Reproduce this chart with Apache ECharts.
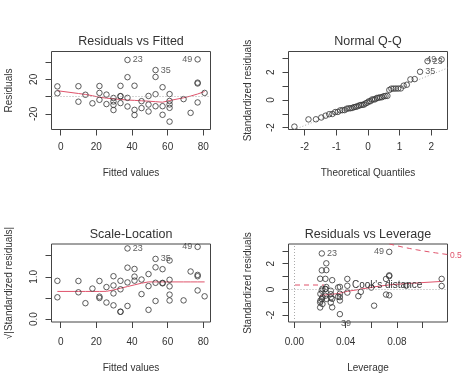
<!DOCTYPE html>
<html><head><meta charset="utf-8">
<script src="https://cdn.jsdelivr.net/npm/echarts@6/dist/echarts.min.js"></script>
<style>html,body{margin:0;padding:0;background:#fff}#c{width:474px;height:387px}</style>
</head><body><div id="c"></div>
<script>
// lm(dist ~ speed) diagnostics, 50 observations
const fitted = [-1.85,-1.85,9.95,9.95,13.88,17.81,21.74,21.74,21.74,25.68,25.68,29.61,29.61,29.61,29.61,33.54,33.54,33.54,33.54,37.47,37.47,37.47,37.47,41.41,41.41,41.41,45.34,45.34,49.27,49.27,49.27,53.20,53.20,53.20,53.20,57.14,57.14,57.14,61.07,61.07,61.07,61.07,61.07,68.93,72.87,76.80,76.80,76.80,76.80,80.73];
const residuals = [3.85,11.85,-5.95,12.05,2.12,-7.81,-3.74,4.26,12.26,-8.68,2.32,-15.61,-9.61,-5.61,-1.61,-7.54,0.46,0.46,12.46,-11.47,-1.47,22.53,42.53,-21.41,-15.41,12.59,-13.34,-5.34,-17.27,-9.27,0.73,-11.20,2.80,22.80,30.80,-21.14,-11.14,10.86,-29.07,-13.07,-9.07,-5.07,2.93,-2.93,-18.87,-6.80,15.20,16.20,43.20,4.27];
const stdResid = [0.266,0.819,-0.401,0.813,0.142,-0.521,-0.249,0.283,0.814,-0.574,0.154,-1.030,-0.634,-0.370,-0.106,-0.496,0.030,0.030,0.820,-0.754,-0.097,1.481,2.795,-1.406,-1.012,0.827,-0.876,-0.351,-1.136,-0.610,0.048,-0.738,0.184,1.501,2.028,-1.395,-0.735,0.717,-1.925,-0.865,-0.600,-0.336,0.194,-0.196,-1.267,-0.459,1.027,1.095,2.919,0.291];
const sqrtAbsStd = [0.516,0.905,0.634,0.902,0.377,0.722,0.499,0.532,0.902,0.758,0.392,1.015,0.796,0.608,0.326,0.705,0.174,0.174,0.906,0.868,0.311,1.217,1.672,1.186,1.006,0.910,0.936,0.592,1.066,0.781,0.219,0.859,0.429,1.225,1.424,1.181,0.857,0.847,1.387,0.930,0.775,0.579,0.441,0.443,1.126,0.678,1.014,1.046,1.709,0.539];
const leverage = [0.1149,0.1149,0.0715,0.0715,0.0600,0.0499,0.0413,0.0413,0.0413,0.0341,0.0341,0.0284,0.0284,0.0284,0.0284,0.0242,0.0242,0.0242,0.0242,0.0214,0.0214,0.0214,0.0214,0.0201,0.0201,0.0201,0.0203,0.0203,0.0219,0.0219,0.0219,0.0249,0.0249,0.0249,0.0249,0.0295,0.0295,0.0295,0.0355,0.0355,0.0355,0.0355,0.0355,0.0518,0.0622,0.0740,0.0740,0.0740,0.0740,0.0873];
const qqTheoretical = [-2.326,-1.881,-1.645,-1.476,-1.341,-1.227,-1.126,-1.036,-0.954,-0.878,-0.806,-0.739,-0.674,-0.613,-0.553,-0.496,-0.440,-0.385,-0.332,-0.279,-0.228,-0.176,-0.126,-0.075,-0.025,0.025,0.075,0.126,0.176,0.228,0.279,0.332,0.385,0.440,0.496,0.553,0.613,0.674,0.739,0.806,0.878,0.954,1.036,1.126,1.227,1.341,1.476,1.645,1.881,2.326];
const qqSample = [-1.925,-1.406,-1.395,-1.267,-1.136,-1.030,-1.012,-0.876,-0.865,-0.754,-0.738,-0.735,-0.634,-0.610,-0.600,-0.574,-0.521,-0.496,-0.459,-0.401,-0.370,-0.351,-0.336,-0.249,-0.196,-0.106,-0.097,0.030,0.030,0.048,0.142,0.154,0.184,0.194,0.266,0.283,0.291,0.717,0.813,0.814,0.819,0.820,0.827,1.027,1.095,1.481,1.501,2.028,2.795,2.919];
const qqLineX = [-2.5124, 2.5124];
const qqLineY = [-2.3148, 2.2974];
// smoothers
const smoothFitX = [-1.85,9.95,13.88,17.81,21.74,25.68,29.61,33.54,37.47,41.41,45.34,49.27,53.20,57.14,61.07,68.93,72.87,76.80,80.73];
const smoothResid = [6.8,3.6,2.5,1.0,-0.8,-1.8,-2.6,-3.3,-4.0,-4.4,-4.9,-5.3,-5.9,-6.5,-4.6,-1.4,0.6,3.0,5.9];
const smoothScale = [0.655,0.655,0.655,0.655,0.655,0.657,0.69,0.73,0.77,0.81,0.85,0.88,0.88,0.88,0.88,0.88,0.88,0.88,0.88];
const smoothLevX = [0.0201,0.0203,0.0214,0.0219,0.0242,0.0249,0.0284,0.0295,0.0341,0.0355,0.0413,0.0499,0.0518,0.0600,0.0622,0.0715,0.0740,0.0873,0.1149];
const smoothLev = [-0.47,-0.47,-0.46,-0.45,-0.43,-0.42,-0.38,-0.37,-0.33,-0.30,-0.15,-0.02,0.03,0.15,0.20,0.32,0.35,0.45,0.62];
// Cook's distance 0.5 contour
const cookX = [0.074,0.08,0.085,0.09,0.095,0.10,0.105,0.11,0.115,0.1195];
const cookY = [3.537,3.391,3.281,3.180,3.087,3.000,2.920,2.845,2.774,2.714];
// labelled points: index -> id text
const idFit = {22:'23', 34:'35', 48:'49'};
const idQQ = {47:'35', 48:'23', 49:'49'};
const idLev = {22:'23', 48:'49', 38:'39'};
// ticks
const xTicksFit = [0,20,40,60,80];
const yTicks1 = [-20,0,20,40], yLabels1 = [-20,20];
const xTicksQQ = [-2,-1,0,1,2];
const yTicksStd = [-2,-1,0,1,2,3], yLabelsStd = [-2,0,2];
const yTicks3 = [0,0.5,1,1.5], yLabels3 = [0,1];
const xTicksLev = [0,0.02,0.04,0.06,0.08,0.10], xLabelsLev = [0,0.04,0.08];

const FONT = '"Liberation Sans", Arial, sans-serif';
const TXT = '#333', LINE = '#444', RED = '#DF536B', GREY = '#aaa';

// label placement styles
const posFit = {22:['right',[0,0]], 34:['right',[0,0]], 48:['left',[0,0]]};
const posQQ = {47:['right',[0,0]], 48:['right',[0,0]], 49:['left',[0,0]]};
const posLev = {22:['right',[0,0]], 48:['left',[0,0]], 38:['bottom',[6,0]]};

function pts(xs, ys, ids, pos) {
  return xs.map((x, i) => {
    if (ids[i] === undefined) return [x, ys[i]];
    return {value: [x, ys[i]], label: {show: true, formatter: ids[i], position: pos[i][0], offset: pos[i][1],
      distance: 2, fontSize: 9, color: TXT, fontFamily: FONT}};
  });
}
function zip(a, b) { return a.map((v, i) => [v, b[i]]); }

function xAx(g, min, max, ticks, labels, fmt, name, gap, margin) {
  return {type:'value', gridIndex:g, min:min, max:max, name:name, nameLocation:'middle', nameGap:gap,
    nameTextStyle:{fontSize:10, color:TXT, fontFamily:FONT},
    axisLine:{show:false, onZero:false}, splitLine:{show:false},
    axisTick:{show:true, length:6, lineStyle:{color:LINE}, customValues:ticks},
    axisLabel:{show:true, customValues:labels, margin:margin, fontSize:10, color:TXT, fontFamily:FONT, formatter:fmt}};
}
function yAx(g, min, max, ticks, labels, fmt, name, gap) {
  return {type:'value', gridIndex:g, min:min, max:max, name:name, nameLocation:'middle', nameGap:gap,
    nameTextStyle:{fontSize:10, color:TXT, fontFamily:FONT},
    axisLine:{show:false, onZero:false}, splitLine:{show:false},
    axisTick:{show:true, length:6, lineStyle:{color:LINE}, customValues:ticks},
    axisLabel:{show:true, customValues:labels, rotate:90, margin:12, fontSize:10, color:TXT, fontFamily:FONT, formatter:fmt}};
}
const fInt = v => String(v);
const f1 = v => v.toFixed(1);
const f2 = v => v.toFixed(2);

const gridBase = {show:true, borderColor:LINE, borderWidth:1, backgroundColor:'transparent'};
const scatterStyle = {color:'rgba(0,0,0,0)', borderColor:TXT, borderWidth:1};

function scatter(xi, data) {
  return {type:'scatter', xAxisIndex:xi, yAxisIndex:xi, data:data, symbol:'circle', symbolSize:5.5,
    itemStyle:scatterStyle, z:3, silent:true};
}
function line(xi, data, color, type, extra) {
  return Object.assign({type:'line', xAxisIndex:xi, yAxisIndex:xi, data:data, showSymbol:false, symbol:'none',
    lineStyle:{color:color, width:1, type:type}, clip:true, silent:true, z:2}, extra||{});
}
const dotted = {color:GREY, width:1, type:[1,2]};

function title(x, y, t) {
  return {type:'text', x:x, y:y, silent:true, style:{text:t, font:'12.5px ' + FONT, fill:TXT,
    textAlign:'center', textVerticalAlign:'middle', align:'center', verticalAlign:'middle'}};
}

const option = {
  animation:false,
  backgroundColor:'#fff',
  grid:[
    Object.assign({left:51.5, top:51.5, width:159, height:78}, gridBase),
    Object.assign({left:288.5, top:51.5, width:159, height:78}, gridBase),
    Object.assign({left:51.5, top:244, width:159, height:78}, gridBase),
    Object.assign({left:288.5, top:244, width:159, height:78}, gridBase)
  ],
  xAxis:[
    xAx(0, -5.15, 84.03, xTicksFit, xTicksFit, fInt, 'Fitted values', 39, 13),
    xAx(1, -2.5124, 2.5124, xTicksQQ, xTicksQQ, fInt, 'Theoretical Quantiles', 39, 13),
    xAx(2, -5.15, 84.03, xTicksFit, xTicksFit, fInt, 'Fitted values', 41, 15),
    xAx(3, -0.00459, 0.11945, xTicksLev, xLabelsLev, f2, 'Leverage', 41, 15)
  ],
  yAxis:[
    yAx(0, -38.20, 52.34, yTicks1, yLabels1, fInt, 'Residuals', 37),
    yAx(1, -2.1328, 3.4907, yTicksStd, yLabelsStd, fInt, 'Standardized residuals', 35),
    yAx(2, -0.0683, 1.7768, yTicks3, yLabels3, f1, '\u221A|Standardized residuals|', 37),
    yAx(3, -2.537, 3.531, yTicksStd, yLabelsStd, fInt, 'Standardized residuals', 35)
  ],
  series:[
    // Residuals vs Fitted
    line(0, zip(smoothFitX, smoothResid), RED, 'solid', {markLine:{symbol:'none', silent:true, label:{show:false}, lineStyle:dotted, data:[{yAxis:0}]}}),
    scatter(0, pts(fitted, residuals, idFit, posFit)),
    // Normal Q-Q
    line(1, zip(qqLineX, qqLineY), GREY, [1,2]),
    scatter(1, pts(qqTheoretical, qqSample, idQQ, posQQ)),
    // Scale-Location
    line(2, zip(smoothFitX, smoothScale), RED, 'solid'),
    scatter(2, pts(fitted, sqrtAbsStd, idFit, posFit)),
    // Residuals vs Leverage
    line(3, zip(smoothLevX, smoothLev), RED, 'solid', {markLine:{symbol:'none', silent:true, label:{show:false}, lineStyle:dotted, data:[{yAxis:0},{xAxis:0}]}}),
    line(3, zip(cookX, cookY), RED, [5,4]),
    scatter(3, pts(leverage, stdResid, idLev, posLev))
  ],
  graphic:[
    title(131, 41.7, 'Residuals vs Fitted'),
    title(368, 41.7, 'Normal Q-Q'),
    title(131, 235, 'Scale-Location'),
    title(368, 235, 'Residuals vs Leverage'),
    {type:'line', silent:true, shape:{x1:295, y1:285, x2:324, y2:285}, style:{stroke:RED, lineWidth:1, lineDash:[5,4]}, z:10},
    {type:'text', x:352, y:285, silent:true, z:10, style:{text:"Cook's distance", font:'10px ' + FONT, fill:TXT,
      textAlign:'left', textVerticalAlign:'middle', align:'left', verticalAlign:'middle'}},
    {type:'text', x:450, y:256, silent:true, z:10, style:{text:'0.5', font:'8.5px ' + FONT, fill:RED,
      textAlign:'left', textVerticalAlign:'middle', align:'left', verticalAlign:'middle'}}
  ]
};
const chart = echarts.init(document.getElementById('c'), null, {renderer:'canvas'});
chart.setOption(option);
</script></body></html>
